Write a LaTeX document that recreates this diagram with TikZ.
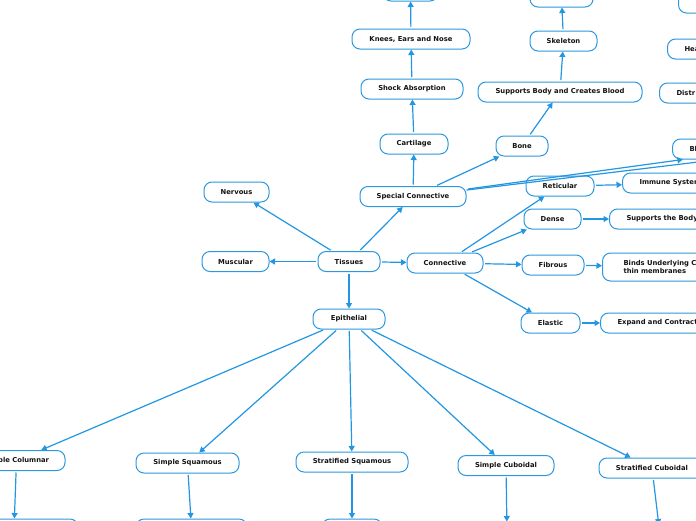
\documentclass[tikz,border=0pt]{standalone}
\usepackage{fontspec}
\setmainfont{DejaVu Sans}
\usetikzlibrary{arrows.meta}
\definecolor{bc}{RGB}{45,152,222}
\definecolor{ac}{RGB}{35,150,225}
\definecolor{txt}{RGB}{20,20,20}
\tikzset{
  box/.style={draw=bc, line width=1pt, fill=white, rounded corners=8pt,
    minimum height=20pt, inner sep=0pt, text=txt,
    font=\bfseries\fontsize{6.8}{8.2}\selectfont},
  edgebox/.style={box, anchor=west, text width=140pt, align=left, inner xsep=17pt},
  arr/.style={draw=ac, line width=1.2pt, shorten <=1.5pt, -{Triangle[length=5.5pt,width=6pt]}},
  ln/.style={draw=ac, line width=1.2pt}
}
\begin{document}
\begin{tikzpicture}[x=1pt,y=-1pt]
\useasboundingbox (0,0) rectangle (696,520);
\begin{scope}
\clip (0,0) rectangle (696,520);
% centre
\node[box, minimum width=62pt] (tis) at (349,261.5) {Tissues};
\node[box, minimum width=67pt] (mus) at (235.5,261.5) {Muscular};
\node[box, minimum width=65pt] (ner) at (236.5,192) {Nervous};
\node[box, minimum width=106pt] (sc) at (413,196.5) {Special Connective};
\node[box, minimum width=76pt] (con) at (445,263) {Connective};
\node[box, minimum width=72pt] (epi) at (349,319) {Epithelial};
% special connective branch
\node[box, minimum width=68pt] (car) at (414,144) {Cartilage};
\node[box, minimum width=102pt] (sho) at (412,89) {Shock Absorption};
\node[box, minimum width=118pt] (kne) at (411,39) {Knees, Ears and Nose};
\node[box, minimum width=55pt] (top1) at (410.5,-9) {};
\node[box, minimum width=52pt] (bon) at (522,146) {Bone};
\node[box, minimum width=164pt] (sbc) at (560,92) {Supports Body and Creates Blood};
\node[box, minimum width=67pt] (ske) at (563.5,41) {Skeleton};
\node[box, minimum width=63pt] (top2) at (561.5,-3) {};
\node[edgebox] (bl) at (672,149) {Bl};
\coordinate (scx) at (760,154.5);
% right column fragments
\node[edgebox] (ii) at (678,3) {I};
\node[edgebox] (hea) at (667,49) {Hea};
\node[edgebox] (dis) at (659,93) {Distr};
% connective branch
\node[box, minimum width=68pt] (ret) at (560,186) {Reticular};
\node[edgebox] (imm) at (622,183) {Immune System};
\node[box, minimum width=57pt] (den) at (552.5,219) {Dense};
\node[edgebox] (sup) at (609,219) {Supports the Body};
\node[box, minimum width=62pt] (fib) at (553,265) {Fibrous};
\node[edgebox, inner xsep=21pt, minimum height=28pt] (bin) at (602,267) {Binds Underlying C\\thin membranes};
\node[box, minimum width=59pt] (ela) at (550.5,323) {Elastic};
\node[edgebox] (exp) at (600,323) {Expand and Contract};
% epithelial branch
\node[box, minimum width=97pt] (scol) at (16.5,460.5) {Simple Columnar};
\node[box, minimum width=103pt] (ssq) at (187.5,463) {Simple Squamous};
\node[box, minimum width=112pt] (stsq) at (352,462) {Stratified Squamous};
\node[box, minimum width=96pt] (scub) at (506,465.5) {Simple Cuboidal};
\node[box, minimum width=106pt] (stcu) at (652,468) {Stratified Cuboidal};
\node[box, minimum width=128pt] (b1) at (14,529) {};
\node[box, minimum width=111pt] (b2) at (191.5,529) {};
\node[box, minimum width=60pt] (b3) at (352,529) {};
\node[box, minimum width=100pt] (b4) at (507,532) {};
\node[box, minimum width=100pt] (b5) at (660,535) {};
% connectors
\draw[arr] (tis) -- (mus);
\draw[arr] (tis) -- (ner);
\draw[arr] (tis) -- (sc);
\draw[arr] (tis) -- (con);
\draw[arr] (tis) -- (epi);
\draw[arr] (sc) -- (car);
\draw[arr] (car) -- (sho);
\draw[arr] (sho) -- (kne);
\draw[arr] (kne) -- (top1);
\draw[arr] (sc) -- (bon);
\draw[arr] (bon) -- (sbc);
\draw[arr] (sbc) -- (ske);
\draw[arr] (ske) -- (top2);
\draw[arr] (sc) -- (bl);
\draw[ln] (sc) -- (scx);
\draw[arr] (con) -- (ret);
\draw[arr] (con) -- (den);
\draw[arr] (con) -- (fib);
\draw[arr] (con) -- (ela);
\draw[arr] (ret) -- (imm);
\draw[arr] (den) -- (sup);
\draw[arr] (fib) -- (bin);
\draw[arr] (ela) -- (exp);
\draw[arr] (epi) -- (scol);
\draw[arr] (epi) -- (ssq);
\draw[arr] (epi) -- (stsq);
\draw[arr] (epi) -- (scub);
\draw[arr] (epi) -- (stcu);
\draw[arr] (scol) -- (b1);
\draw[arr] (ssq) -- (b2);
\draw[arr] (stsq) -- (b3);
\draw[arr] (scub) -- (b4);
\draw[arr] (stcu) -- (b5);
\end{scope}
\end{tikzpicture}
\end{document}
